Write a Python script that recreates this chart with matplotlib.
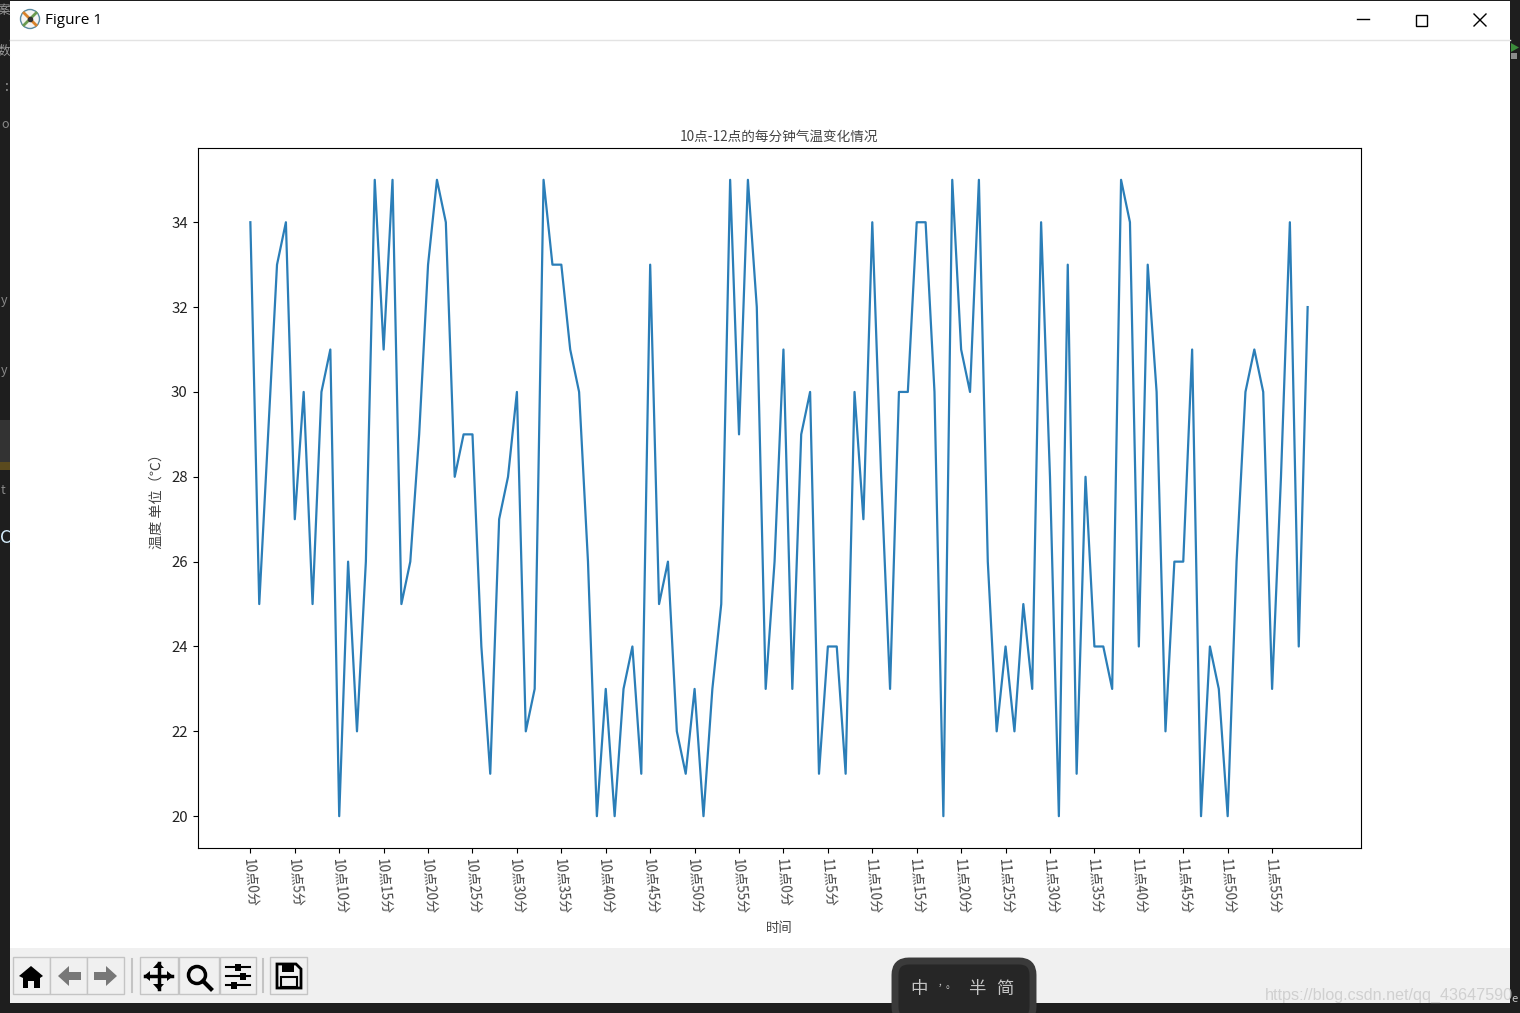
import matplotlib
matplotlib.use("Agg")
import matplotlib.pyplot as plt
from matplotlib.patches import Rectangle, Polygon, Circle, FancyBboxPatch

plt.rcParams['font.family'] = ['Noto Sans CJK SC', 'DejaVu Sans']

# temperature per minute, 10:00 - 11:59
temps = [34, 25, 29, 33, 34, 27, 30, 25, 30, 31,
         20, 26, 22, 26, 35, 31, 35, 25, 26, 29,
         33, 35, 34, 28, 29, 29, 24, 21, 27, 28,
         30, 22, 23, 35, 33, 33, 31, 30, 26, 20,
         23, 20, 23, 24, 21, 33, 25, 26, 22, 21,
         23, 20, 23, 25, 35, 29, 35, 32, 23, 26,
         31, 23, 29, 30, 21, 24, 24, 21, 30, 27,
         34, 28, 23, 30, 30, 34, 34, 30, 20, 35,
         31, 30, 35, 26, 22, 24, 22, 25, 23, 34,
         28, 20, 33, 21, 28, 24, 24, 23, 35, 34,
         24, 33, 30, 22, 26, 26, 31, 20, 24, 23,
         20, 26, 30, 31, 30, 23, 28, 34, 24, 32]
minutes = list(range(len(temps)))
tick_positions = minutes[::5]
tick_labels = [f"{10 + m // 60}点{m % 60}分" for m in tick_positions]
y_ticks = [20, 22, 24, 26, 28, 30, 32, 34]

W, H = 1520, 1013
fig = plt.figure(figsize=(W / 100, H / 100), dpi=100, facecolor='white')

# window chrome, in screenshot pixels
bg = fig.add_axes([0, 0, 1, 1], zorder=0)
bg.set_xlim(0, W)
bg.set_ylim(H, 0)
bg.axis('off')

dark = '#1e1e1e'
bg.add_patch(Rectangle((0, 0), 10, H, color=dark, lw=0))
bg.add_patch(Rectangle((1510, 0), 10, H, color=dark, lw=0))
bg.add_patch(Rectangle((0, 1003), W, 10, color=dark, lw=0))
bg.add_patch(Rectangle((0, 0), W, 1, color=dark, lw=0))
bg.add_patch(Rectangle((10, 948), 1500, 55, color='#f0f0f0', lw=0))
bg.plot([10, 1510], [39.5, 39.5], color='#e3e3e3', lw=1)

# stray bits of the editor behind the window
for x, y, s, c, fs in [(-2, 10, "案", '#9a9a9a', 9), (-2, 51, "数", '#9a9a9a', 9),
                       (1, 124, "o", '#8a8a8a', 9), (1, 300, "y", '#8a8a8a', 9),
                       (1, 370, "y", '#8a8a8a', 9), (1, 490, "t", '#8a8a8a', 9),
                       (0, 538, "C", '#d8f0ff', 13), (5, 87, ":", '#9a9a9a', 10),
                       (1511, 999, "e", '#c8c8c8', 8)]:
    bg.text(x, y, s, color=c, fontsize=fs, va='center', ha='left', clip_on=True)
bg.add_patch(Rectangle((0, 420), 10, 42, color='#333333', lw=0))
bg.add_patch(Rectangle((0, 462), 10, 8, color='#5a4a1e', lw=0))
bg.add_patch(Polygon([(1511, 43), (1511, 52), (1519, 47.5)], color='#3c8c3c', lw=0))
bg.add_patch(Rectangle((1511, 53), 6, 6, color='#8c8c8c', lw=0))

# title bar
bg.add_patch(Circle((30, 19), 9.5, fc='#f4f4f4', ec='#5a8aa0', lw=1))
bg.plot([24, 36], [13, 25], color='#d9822b', lw=2)
bg.plot([36, 24], [13, 25], color='#6a9a50', lw=2)
bg.plot([30], [19], 'o', color='#333333', ms=3)
bg.text(45, 20.5, "Figure 1", fontsize=11, family=['Open Sans'], color='black', va='center', ha='left')
bg.plot([1357, 1369], [19, 19], color='black', lw=1)
bg.add_patch(Rectangle((1415.5, 14.5), 11, 11, fc='none', ec='black', lw=1))
bg.plot([1474, 1486], [14, 26], color='black', lw=1)
bg.plot([1474, 1486], [26, 14], color='black', lw=1)

# toolbar buttons
for x0, x1 in [(13, 50), (50, 87), (87, 124), (140, 178), (179, 219), (220, 256), (270, 307)]:
    bg.add_patch(Rectangle((x0, 957), x1 - x0, 37, fc='#f0f0f0', ec='#c4c4c4', lw=1))
bg.plot([132, 132], [959, 992], color='#c4c4c4', lw=1.5)
bg.plot([263, 263], [959, 992], color='#c4c4c4', lw=1.5)

bg.add_patch(Polygon([(19, 976), (31, 966), (43, 976), (40, 978), (40, 988), (34, 988), (34, 981),
                      (28, 981), (28, 988), (23, 988), (23, 978)], color='black', lw=0))
bg.add_patch(Polygon([(58, 976), (69, 966), (69, 972), (81, 972), (81, 980), (69, 980), (69, 986)],
                     color='#777777', lw=0))
bg.add_patch(Polygon([(117, 976), (106, 966), (106, 972), (94, 972), (94, 980), (106, 980), (106, 986)],
                     color='#777777', lw=0))
bg.plot([145, 172], [976, 976], color='black', lw=2.5)
bg.plot([158.5, 158.5], [963, 989], color='black', lw=2.5)
for pts in [[(144, 976), (150, 971), (150, 981)], [(173, 976), (167, 971), (167, 981)],
            [(158.5, 962), (153, 968), (164, 968)], [(158.5, 990), (153, 984), (164, 984)]]:
    bg.add_patch(Polygon(pts, color='black', lw=0))
bg.add_patch(Circle((197, 975), 8.5, fc='none', ec='black', lw=2.5))
bg.plot([203, 211], [981, 989], color='black', lw=3)
for y, x in [(967, 238), (976, 243), (985, 234)]:
    bg.plot([226, 250], [y, y], color='black', lw=1.5)
    bg.add_patch(Rectangle((x - 3, y - 3.5), 6, 7, color='black', lw=0))
bg.add_patch(Polygon([(277, 964), (296, 964), (301, 969), (301, 988), (277, 988)], fc='none', ec='black', lw=2))
bg.add_patch(Rectangle((282, 965), 12, 7, color='black', lw=0))
bg.add_patch(Rectangle((281, 977), 16, 10, fc='none', ec='black', lw=1.5))

# IME panel and watermark
bg.add_patch(FancyBboxPatch((895, 961), 138, 60, boxstyle="round,pad=0,rounding_size=14", fc='#262626', ec='#3a3a3a', lw=5))
bg.text(919, 989, "中", color='#c4c4c4', fontsize=12.5, ha='center', va='center')
bg.text(943, 983, "，", color='#c4c4c4', fontsize=7, ha='center', va='center')
bg.text(951, 985, "。", color='#c4c4c4', fontsize=7, ha='center', va='center')
bg.text(977, 989, "半", color='#c4c4c4', fontsize=12.5, ha='center', va='center')
bg.text(1005, 989, "简", color='#c4c4c4', fontsize=12.5, ha='center', va='center')
bg.text(1265, 995, "https://blog.csdn.net/qq_43647590", color='#c8c8c8', alpha=0.8, fontsize=11.6,
        family=['Liberation Sans'], ha='left', va='center')

# the chart
ax = fig.add_axes([197.5 / W, 1 - 848 / H, (1360.5 - 197.5) / W, (848 - 148) / H], zorder=1)
ax.plot(minutes, temps, color='#1f77b4', lw=1.6, alpha=0.95)
ax.set_xticks(tick_positions)
ax.set_xticklabels(tick_labels, rotation=-85, fontsize=9.6, color='#444444')
ax.set_yticks(y_ticks)
ax.tick_params(axis='y', labelsize=10.8, labelcolor='#222222')
ax.tick_params(axis='both', width=0.8, length=3.5)
ax.set_title("10点-12点的每分钟气温变化情况", fontsize=9.8, color='#444444', pad=5)
ax.set_xlabel("时间", fontsize=9.6, color='#444444', labelpad=4)
ax.set_ylabel("温度 单位（℃）", fontsize=10.2, color='#444444', labelpad=5)

fig.savefig("out.png", dpi=100)
